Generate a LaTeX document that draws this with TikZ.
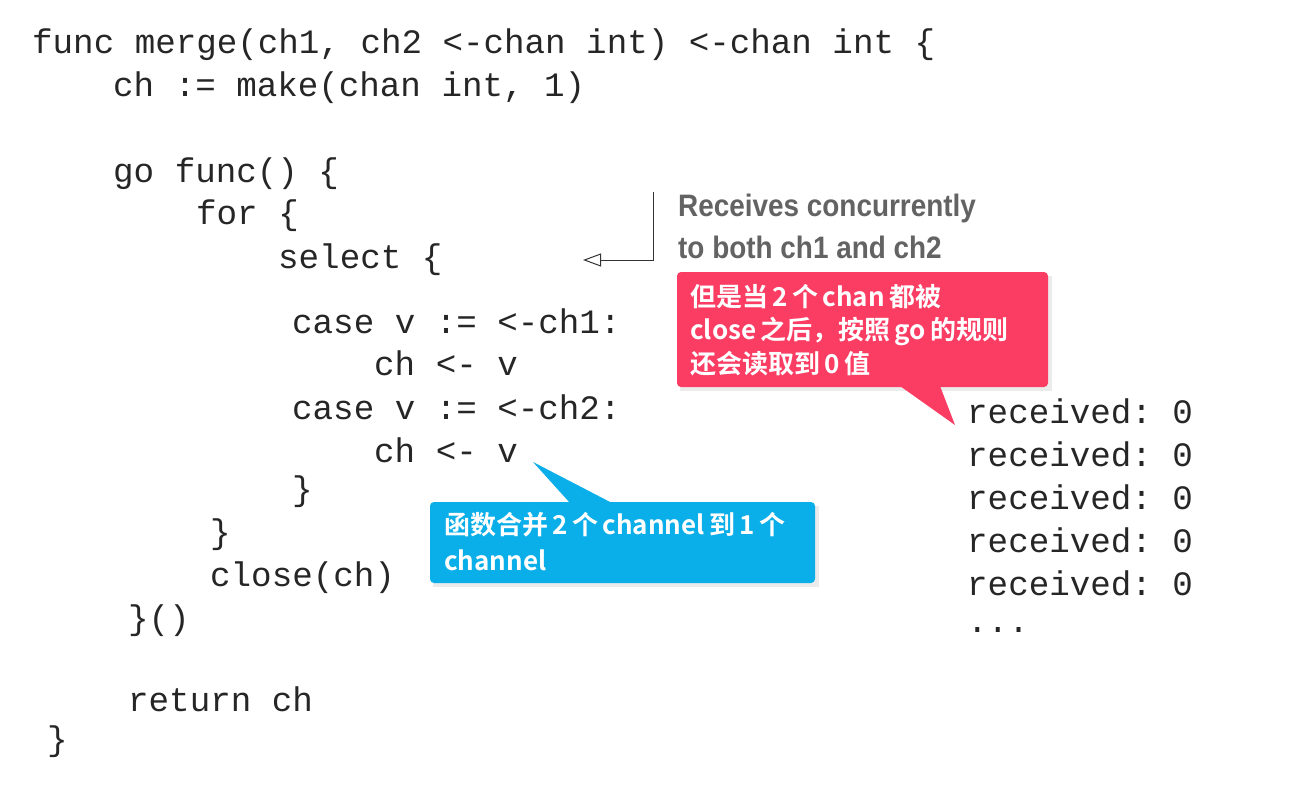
\documentclass[tikz,border=0pt]{standalone}
\usepackage{fontspec}
\setmonofont{Liberation Mono}
\newfontfamily\cjk{Noto Sans CJK SC}[BoldFont={* Bold}]
\newfontfamily\annfont{Liberation Sans Bold}
\usetikzlibrary{arrows.meta}
\definecolor{redbox}{HTML}{FB3D63}
\definecolor{bluebox}{HTML}{0AAEE8}
\definecolor{anngray}{HTML}{636363}
\begin{document}
\begin{tikzpicture}[x=1pt,y=-1pt,
  code/.style={anchor=west,inner sep=0pt,font=\ttfamily\fontsize{34.2}{34}\selectfont,text=black!85},
  ann/.style={anchor=west,inner sep=0pt,text=anngray,font=\annfont\fontsize{31}{31}\selectfont},
  callt/.style={anchor=west,inner sep=0pt,text=white,font=\cjk\bfseries\fontsize{26}{26}\selectfont}]
\useasboundingbox (0,0) rectangle (1306,800);
\fill[white] (0,0) rectangle (1306,800);
\node[code] (l1) at (32,45) {func merge(ch1, ch2 <-chan int) <-chan int \{};
\node[code] (l2) at (113,88) {ch := make(chan int, 1)};
\node[code] (l3) at (113,174) {go func() \{};
\node[code] (l4) at (196,216) {for \{};
\node[code] (l5) at (278,260) {select \{};
\node[code] (l6) at (292,321) {case v := <-ch1:};
\node[code] (l7) at (374,363) {ch <- v};
\node[code] (l8) at (292,407) {case v := <-ch2:};
\node[code] (l9) at (374,450) {ch <- v};
\node[code] (l10) at (292,492) {\}};
\node[code] (l11) at (210,535) {\}};
\node[code] (l12) at (210,578) {close(ch)};
\node[code] (l13) at (128,621) {\}()};
\node[code] (l14) at (128,699) {return ch};
\node[code] (l15) at (47,742) {\}};
\foreach \y/\n in {411/1,454/2,497/3,540/4,583/5}
  \node[code] (r\n) at (967,\y) {received: 0};
\node[code] (r6) at (967,630) {...};
% annotation
\node[ann] (a1) at (678,208) {\scalebox{0.9}[1]{Receives concurrently}};
\node[ann] (a2) at (678,247) {\scalebox{0.9}[1]{to both ch1 and ch2}};
\coordinate (atop) at (653,192);
\coordinate (atip) at (583,260);
\draw[black!80,line width=1pt,-{Triangle[open,length=18pt,width=13pt]}] (atop) -- (653,260) -- (atip);
% red callout
\fill[black,opacity=0.08] (680,276) rectangle (1052,391);
\fill[redbox,rounded corners=4pt] (677,272) rectangle (1048,387);
\fill[redbox] (900,386) -- (955,425) -- (940,386) -- cycle;
\node[callt] (c1) at (690,297) {但是当\,2\,个\,chan\,都被};
\node[callt] (c2) at (690,331) {close\,之后，按照\,go\,的规则};
\node[callt] (c3) at (690,364) {还会读取到\,0\,值};
% blue callout
\fill[black,opacity=0.08] (433,506) rectangle (819,587);
\fill[bluebox,rounded corners=4pt] (430,502) rectangle (815,583);
\fill[bluebox] (570,503) -- (533,462) -- (612,503) -- cycle;
\node[callt] (b1) at (444,525) {函数合并\,2\,个\,channel\,到\,1\,个};
\node[callt] (b2) at (444,560) {channel};
\end{tikzpicture}
\end{document}
